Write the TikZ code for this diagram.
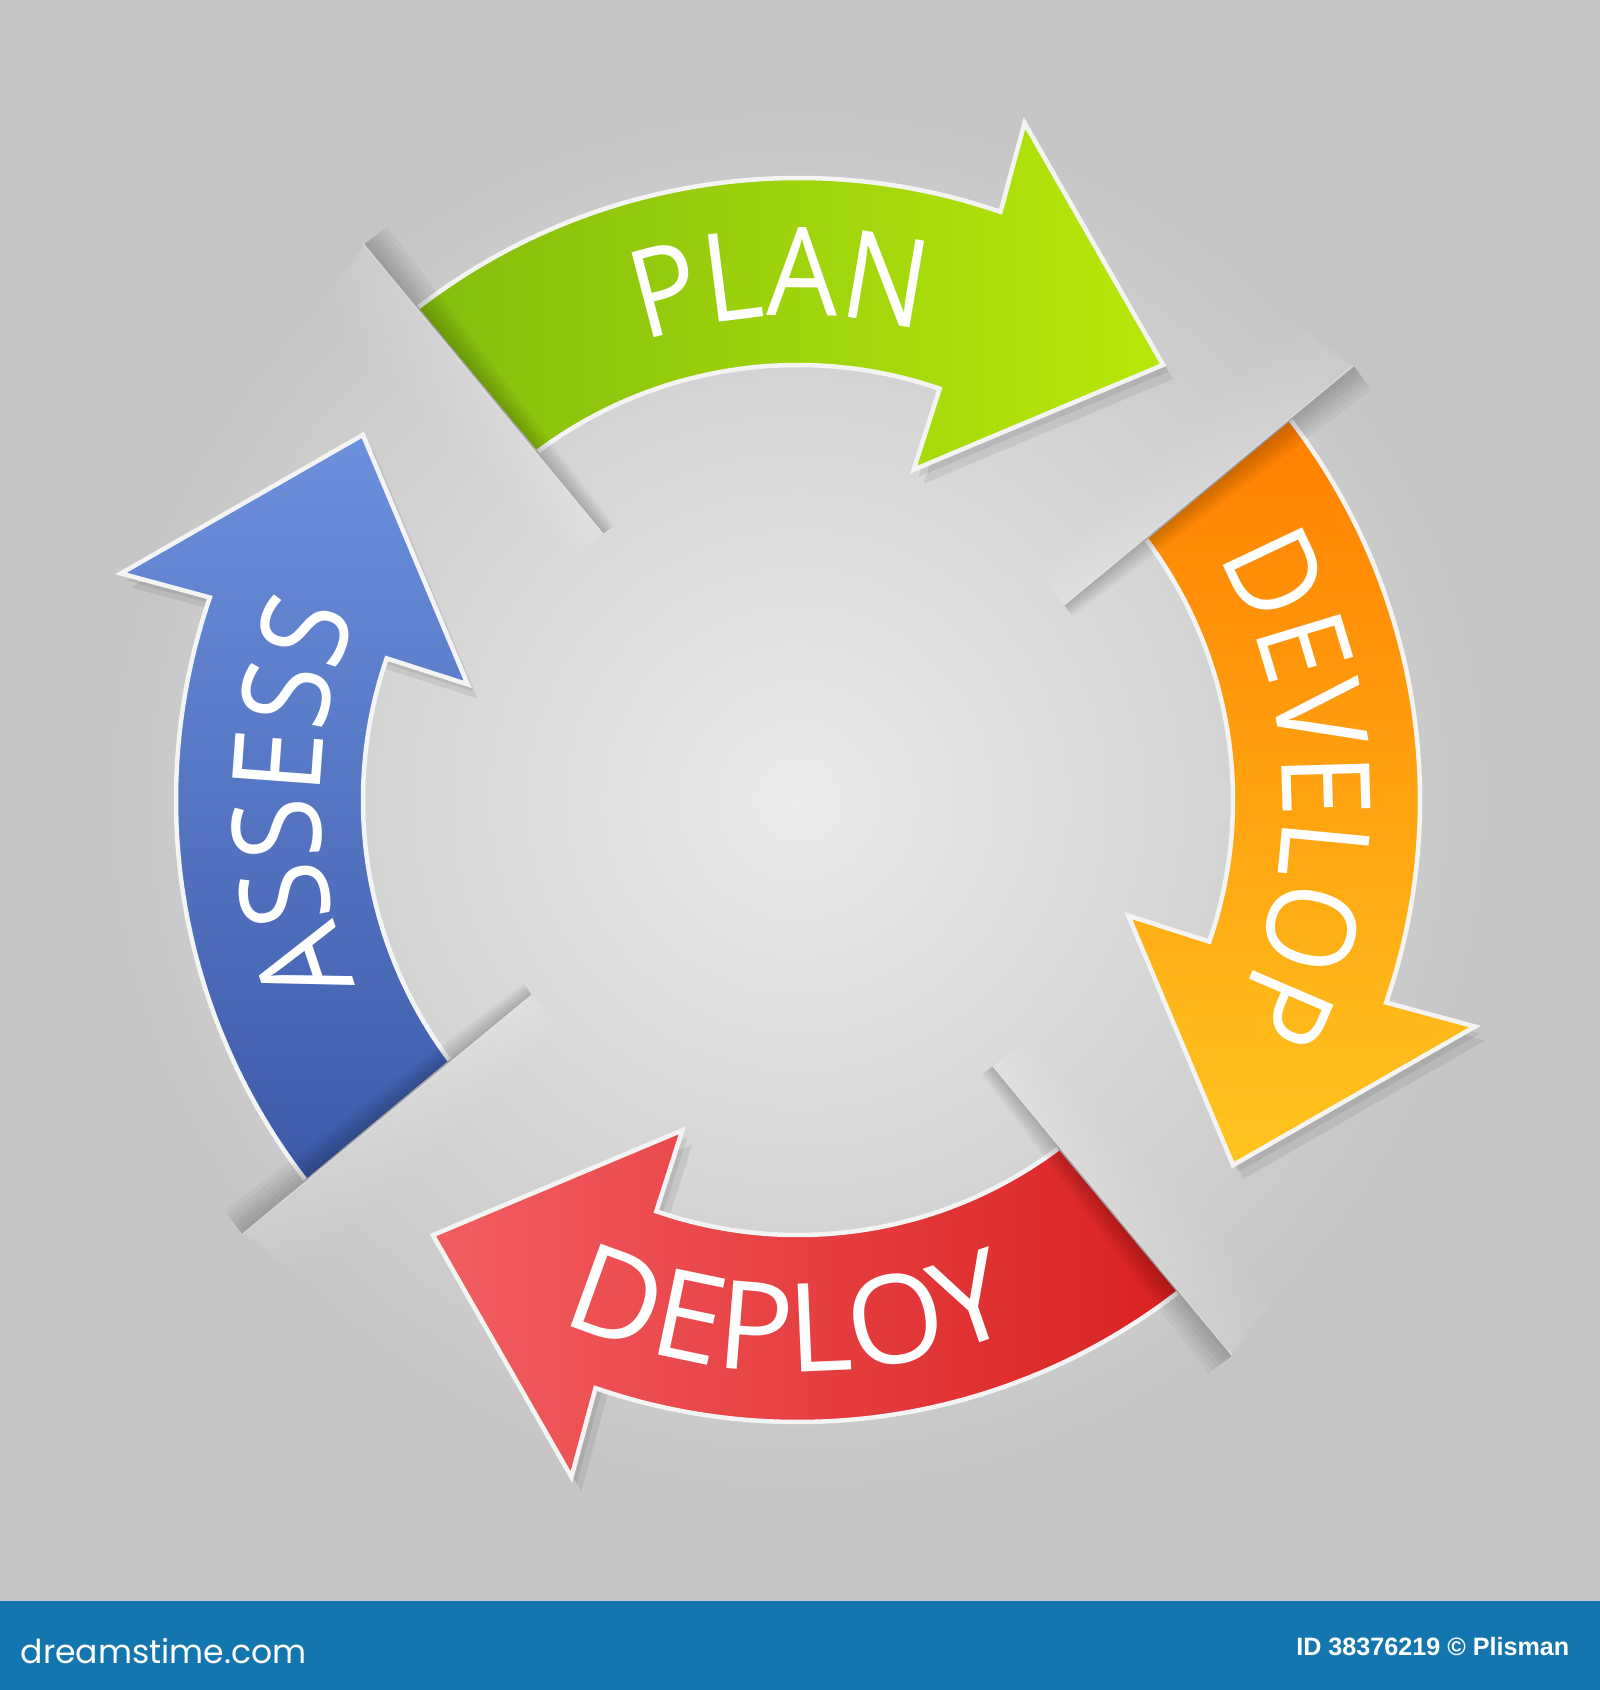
\documentclass[tikz,border=0pt]{standalone}
\usepackage{fontspec}
\setmainfont{Open Sans}
\newfontfamily\arrowfont[FakeStretch=0.91]{Open Sans}
\newfontfamily\widearrowfont[FakeStretch=1.02]{Open Sans}
\newfontfamily\logofont{Poppins}
\newfontfamily\idfont{Liberation Sans}
\usetikzlibrary{decorations.text}

\definecolor{bgcol}{HTML}{C6C6C6}
\definecolor{bgcenter}{HTML}{EBEBEB}
\definecolor{barcol}{HTML}{1476AE}
\definecolor{edgecol}{HTML}{F4F4F4}
\definecolor{planA}{HTML}{84BD0E}
\definecolor{planB}{HTML}{B8E80A}
\definecolor{devA}{HTML}{FF7F00}
\definecolor{devB}{HTML}{FFC520}
\definecolor{depA}{HTML}{D92121}
\definecolor{depB}{HTML}{F35E62}
\definecolor{assA}{HTML}{3D5AA9}
\definecolor{assB}{HTML}{6C90DC}

\def\arrowtext{\arrowfont\fontsize{35pt}{40pt}\selectfont}
\def\widearrowtext{\widearrowfont\fontsize{35pt}{40pt}\selectfont}

\newcommand\arrowfill[1]{({126.7+(#1)}:435) arc[start angle={126.7+(#1)}, end angle={71+(#1)}, radius=435]
  -- ({70.7+(#1)}:350) -- ({50+(#1)}:568) -- ({71.5+(#1)}:714) -- ({71+(#1)}:622)
  arc[start angle={71+(#1)}, end angle={127.6+(#1)}, radius=622] -- cycle}
\newcommand\arrowedge[1]{({126.7+(#1)}:435) arc[start angle={126.7+(#1)}, end angle={71+(#1)}, radius=435]
  -- ({70.7+(#1)}:350) -- ({50+(#1)}:568) -- ({71.5+(#1)}:714) -- ({71+(#1)}:622)
  arc[start angle={71+(#1)}, end angle={127.6+(#1)}, radius=622]}
\newcommand\headpath[1]{({71+(#1)}:435) -- ({70.7+(#1)}:350) -- ({50+(#1)}:568) -- ({71.5+(#1)}:714) -- ({71+(#1)}:622) -- cycle}

\tikzset{
  edgeline/.style={draw=edgecol, line width=0.045cm, line join=miter},
  headshadow/.style={fill=black, opacity=0.07},
  labeltext/.style={decorate, decoration={text along path, text={|\arrowtext|#1}, text align=center, text color=white}},
  widelabeltext/.style={decorate, decoration={text along path, text={|\widearrowtext|#1}, text align=center, text color=white}}
}

\begin{document}
\begin{tikzpicture}[x=0.01cm, y=0.01cm]
\useasboundingbox (-798,-890) rectangle (802,800);
% background
\fill[bgcol] (-798,-890) rectangle (802,800);
\begin{scope}
  \clip (-798,-890) rectangle (802,800);
  \shade[inner color=bgcenter, outer color=bgcol] (0,0) circle (700);
\end{scope}

% head shadows
\foreach \o in {0,-90,-180,-270} {
  \fill[headshadow, shift={(10,-14)}] \headpath{\o};
  \fill[headshadow, shift={(5,-7)}] \headpath{\o};
}

% arrows
\shade[left color=planA, right color=planB] \arrowfill{0};
\shade[top color=devA, bottom color=devB] \arrowfill{-90};
\shade[left color=depB, right color=depA] \arrowfill{-180};
\shade[top color=assB, bottom color=assA] \arrowfill{-270};
\foreach \o in {0,-90,-180,-270} {
  \draw[edgeline] \arrowedge{\o};
}

% paper cuts: light flap and shadow
\foreach \o in {0,-90,-180,-270} {
  \foreach \d in {1,...,6} {
    \fill[white, opacity=0.035] ({126.2+\o}:330) -- ({128+\o}:705) -- ({128+\o+1.0*\d}:690) -- ({126.2+\o+1.2*\d}:330) -- cycle;
    \fill[black, opacity=0.035] ({126.2+\o}:330) -- ({128+\o}:705) -- ({128+\o-0.4*\d}:705) -- ({126.2+\o-0.4*\d}:330) -- cycle;
  }
  \draw[white, opacity=0.5, line width=0.01cm] ({126.2+\o}:330) -- ({128+\o}:705);
}

% labels
\path[labeltext=PLAN] (132:484) arc[start angle=132, end angle=52, radius=484];
\path[labeltext=DEVELOP] (41.5:485) arc[start angle=41.5, end angle=-38.5, radius=485];
\path[widelabeltext=DEPLOY] (-131:572) arc[start angle=-131, end angle=-51, radius=572];
\path[labeltext=ASSESS] (220:478) arc[start angle=220, end angle=140, radius=478];

% bottom bar
\fill[barcol] (-798,-890) rectangle (802,-801);
\node[anchor=base west, inner sep=0, text=white, font=\logofont\fontsize{9.4pt}{11pt}\selectfont] (logo) at (-778,-863) {dreamstime.com};
\node[anchor=base east, inner sep=0, text=white, font=\idfont\bfseries\fontsize{7.15pt}{9pt}\selectfont] (imgid) at (772,-855) {ID 38376219 © Plisman};
\end{tikzpicture}
\end{document}
